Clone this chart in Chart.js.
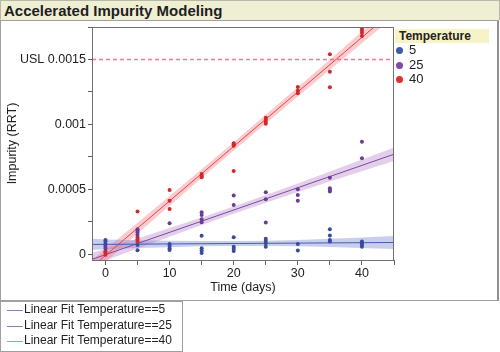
<!DOCTYPE html>
<html>
<head>
<meta charset="utf-8">
<script src="https://cdn.jsdelivr.net/npm/chart.js@4"></script>
<style>
  html, body { margin: 0; padding: 0; background: #fff; }
  body { width: 500px; height: 352px; position: relative; overflow: hidden;
         font-family: "Liberation Sans", Arial, sans-serif; color: #222; }
  #titlebar { position: absolute; left: 0; top: 0; width: 498px; height: 19px;
              background: #EEEFD3; border: 1px solid #B8B8A8; border-bottom: none; }
  #titlebar span { position: absolute; left: 3px; top: 1px; font-size: 15px; font-weight: bold; color: #1e1e1e; }
  #frame { position: absolute; left: 0; top: 20px; width: 496px; height: 279px;
           border: 1px solid #A0A0A0; border-right: 2px solid #909090; }
  #chartwrap { position: absolute; left: 0; top: 0; width: 500px; height: 352px; }
  #legR { position: absolute; left: 395px; top: 29px; width: 100px; }
  #legR .hdr { background: #F7F3C6; width: 94px; height: 14px; font-size: 12px; font-weight: bold;
               line-height: 14px; padding-left: 4px; box-sizing: border-box; }
  #legR .item { position: relative; height: 14.5px; font-size: 13px; line-height: 14.5px; padding-left: 14px; }
  #legR .dot { position: absolute; left: 1px; top: 4px; width: 7px; height: 7px; border-radius: 50%; }
  #legB { position: absolute; left: 0; top: 301px; width: 181px; height: 49px; border: 1px solid #A0A0A0; }
  #legB .item { position: relative; height: 15.5px; font-size: 12px; line-height: 15.5px; padding-left: 23px; }
  #legB .sw { position: absolute; left: 6px; top: 8px; width: 16px; height: 1px; }
</style>
</head>
<body>
<div id="titlebar"><span>Accelerated Impurity Modeling</span></div>
<div id="frame"></div>
<div id="chartwrap"><canvas id="c" width="500" height="352"></canvas></div>
<div id="legR">
  <div class="hdr">Temperature</div>
  <div class="item"><span class="dot" style="background:#3F5AAA"></span>5</div>
  <div class="item"><span class="dot" style="background:#7F4AA8"></span>25</div>
  <div class="item"><span class="dot" style="background:#E0302E"></span>40</div>
</div>
<div id="legB">
  <div class="item"><span class="sw" style="background:#7888C0"></span>Linear Fit Temperature==5</div>
  <div class="item"><span class="sw" style="background:#9A78B4"></span>Linear Fit Temperature==25</div>
  <div class="item"><span class="sw" style="background:#E88890"></span>Linear Fit Temperature==40</div>
</div>
<script>
// ---- Data ----
const blueDays = [0,0,0, 5,5, 10,10,10,10, 15,15,15,15, 20,20,20,20, 25,25,25,25, 30,30, 35,35,35,35, 40,40,40,40];
const blueVals = [0.00011,0.000097,0.000079, 0.00007,0.00003, 0.000079,0.000064,0.000046,0.000033,
                  0.000141,0.000046,0.000028,0.000008, 0.000131,0.000058,0.000041,0.000025,
                  0.000118,0.000102,0.000085,0.000058, 0.000079,0.000028,
                  0.000192,0.000143,0.00011,0.000097, 0.000097,0.000085,0.000072,0.000058];

const purpleDays = [0,0,0, 5,5,5,5, 10, 15,15,15,15, 20,20, 25,25,25, 30,30,30, 35,35,35,35, 40,40];
const purpleVals = [0.00007,0.000058,0.000041, 0.000192,0.00018,0.000166,0.000148, 0.000238,
                    0.000323,0.000302,0.000269,0.000246, 0.000451,0.000379, 0.000477,0.000423,0.000243,
                    0.0005,0.000456,0.000412, 0.000589,0.000508,0.000495,0.000482, 0.000866,0.000738];

const redDays = [0,0,0, 5,5,5,5, 10,10,10, 15,15,15, 20,20,20,20, 25,25,25,25, 30,30,30, 35,35,35, 40,40,40,40];
const redVals = [0.00002,0.00001,-0.000005, 0.000328,0.00013,0.000115,0.0001, 0.000495,0.000412,0.000348,
                 0.000618,0.000602,0.000592, 0.000854,0.000845,0.000835,0.00064,
                 0.00105,0.001035,0.001018,0.001005, 0.001287,0.001258,0.00124,
                 0.00154,0.001405,0.001285, 0.00174,0.001723,0.001705,0.00168];

// Fitted lines (end points)
const fitX = [-2.1, 45];
const blueFit = [0.000075, 0.00009];
const purpleFit = [-0.00004, 0.00077];
const redFit = [-0.000098, 0.00188];

// Confidence bands
const bandX = [-2.1, 0, 10, 20, 30, 40, 45];
const blueUpper = [0.000118, 0.000113, 0.000104, 0.000102, 0.000110, 0.000128, 0.00014];
const blueLower = [0.000032, 0.000038, 0.000054, 0.000062, 0.000060, 0.000048, 0.00004];
const purpleUpper = [0.00001, 0.000041, 0.000201, 0.000368, 0.000545, 0.000729, 0.000822];
const purpleLower = [-0.00009, -0.000049, 0.000135, 0.000312, 0.000479, 0.000639, 0.000718];
const redUpper = [-0.000043, 0.00004, 0.000448, 0.000862, 0.001285, 0.001715, 0.001932];
const redLower = [-0.000153, -0.00006, 0.000372, 0.000798, 0.001215, 0.001625, 0.001828];

const uslValue = 0.0015;

const xTickValues = [0, 10, 20, 30, 40];
const xTickLabels = ['0', '10', '20', '30', '40'];
const yTickValues = [0, 0.0005, 0.001, 0.0015];
const yTickLabels = ['0', '0.0005', '0.001', 'USL 0.0015'];

// ---- Build ----
const pts = (xs, ys) => xs.map((x, i) => ({x: x, y: ys[i]}));

function band(upper, lower, fillColor, order) {
  return [
    { data: pts(bandX, upper), borderWidth: 0, borderColor: 'rgba(0,0,0,0)', pointRadius: 0, fill: '+1',
      backgroundColor: fillColor, cubicInterpolationMode: 'monotone', order: order },
    { data: pts(bandX, lower), borderWidth: 0, borderColor: 'rgba(0,0,0,0)', pointRadius: 0, fill: false,
      cubicInterpolationMode: 'monotone', order: order }
  ];
}

function fitLine(ys, color) {
  return { data: pts(fitX, ys), borderColor: color, borderWidth: 1, pointRadius: 0, fill: false, order: 2 };
}
function scatter(xs, ys, color) {
  return { data: pts(xs, ys), showLine: false, pointRadius: 2, pointBorderWidth: 0,
           pointBackgroundColor: color, backgroundColor: color, borderColor: color, order: 1 };
}

const datasets = [
  ...band(blueUpper, blueLower, 'rgba(95,115,205,0.34)', 6),
  ...band(purpleUpper, purpleLower, 'rgba(165,95,190,0.30)', 5),
  ...band(redUpper, redLower, 'rgba(245,110,120,0.36)', 4),
  fitLine(blueFit, '#4A5AAE'),
  fitLine(purpleFit, '#7A4AA0'),
  fitLine(redFit, '#E04848'),
  scatter(blueDays, blueVals, '#3A4A9E'),
  scatter(purpleDays, purpleVals, '#6A3C96'),
  scatter(redDays, redVals, '#D42828')
];

function lookup(values, labels, v, tol) {
  for (let i = 0; i < values.length; i++) if (Math.abs(values[i] - v) < tol) return labels[i];
  return '';
}

// Reference line (USL) through the y scale, and frame around the plot area
const usl = {
  id: 'usl',
  beforeDatasetsDraw(chart) {
    const a = chart.chartArea, ctx = chart.ctx;
    const y = chart.scales.y.getPixelForValue(uslValue);
    ctx.save();
    ctx.strokeStyle = 'rgba(236,96,140,0.85)';
    ctx.lineWidth = 1.6;
    ctx.setLineDash([4, 3]);
    ctx.beginPath();
    ctx.moveTo(a.left, y);
    ctx.lineTo(a.right, y);
    ctx.stroke();
    ctx.restore();
  }
};
const frameBox = {
  id: 'frameBox',
  afterDatasetsDraw(chart) {
    const a = chart.chartArea, ctx = chart.ctx;
    ctx.save();
    ctx.strokeStyle = '#707070';
    ctx.lineWidth = 1;
    ctx.strokeRect(Math.round(a.left) + 0.5, Math.round(a.top) + 0.5,
                   Math.round(a.right - a.left) - 1, Math.round(a.bottom - a.top));
    ctx.restore();
  }
};

Chart.defaults.font.family = '"Liberation Sans", Arial, sans-serif';
Chart.defaults.color = '#222';

new Chart(document.getElementById('c'), {
  type: 'line',
  data: { datasets: datasets },
  options: {
    responsive: false,
    devicePixelRatio: 1,
    animation: false,
    layout: { padding: { left: 1, top: 27, right: 106, bottom: 54 } },
    plugins: { legend: { display: false }, tooltip: { enabled: false } },
    scales: {
      x: {
        type: 'linear', min: -2.1, max: 45,
        afterFit: (s) => { s.height = 38; },
        ticks: { stepSize: 5, includeBounds: false, autoSkip: false, maxRotation: 0,
                 font: { size: 12.5 }, color: '#222', padding: 1,
                 callback: (v) => lookup(xTickValues, xTickLabels, v, 1e-6) },
        grid: { drawOnChartArea: false, tickLength: 5, color: '#606060' },
        border: { color: '#606060' },
        title: { display: true, text: 'Time (days)', font: { size: 12.5 }, color: '#222', padding: { top: 0, bottom: 3 } }
      },
      y: {
        type: 'linear', min: -0.000045, max: 0.00175,
        afterFit: (s) => { s.width = 91; },
        ticks: { stepSize: 0.00025, includeBounds: false, autoSkip: false,
                 font: { size: 12.5 }, color: '#222', padding: 2,
                 callback: (v) => lookup(yTickValues, yTickLabels, v, 1e-9) },
        grid: { drawOnChartArea: false, tickLength: 4, color: '#606060' },
        border: { color: '#606060' },
        title: { display: true, text: 'Impurity (RRT)', font: { size: 12.5 }, color: '#222', padding: { top: 4, bottom: 0 } }
      }
    }
  },
  plugins: [usl, frameBox]
});
</script>
</body>
</html>
